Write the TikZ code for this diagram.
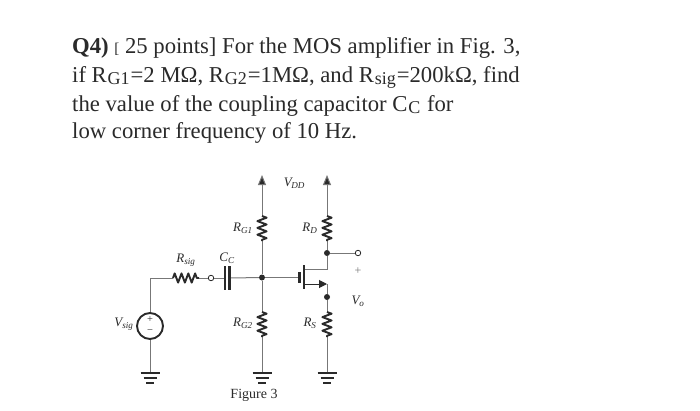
\documentclass[tikz,border=0pt]{standalone}
\usepackage{fontspec}
\setmainfont{Liberation Serif}
\usetikzlibrary{decorations.pathmorphing,arrows.meta}
\definecolor{ink}{HTML}{2A2A2A}
\definecolor{wire}{HTML}{777777}
\tikzset{
 x=1pt,y=-1pt,
 wireline/.style={draw=wire,line width=1pt},
 res/.style={draw=ink,line width=1.9pt,line join=round,decorate,decoration={zigzag,segment length=6.8pt,amplitude=4.6pt}},
 dot/.style={circle,fill=ink,inner sep=0pt,minimum size=6pt},
 term/.style={circle,draw=ink,fill=white,line width=0.8pt,inner sep=0pt,minimum size=5.5pt},
 para/.style={anchor=base west,inner sep=0pt,font=\fontsize{22.7}{23}\selectfont,text=ink},
 lab/.style={inner sep=0pt,font=\fontsize{13}{13}\selectfont\itshape,text=ink},
 plate/.style={draw=ink,line width=2.2pt},
 gbar/.style={draw=ink,line width=1.8pt},
 tip/.style={-{Triangle[length=10pt,width=8pt,fill=ink]}}
}
\newcommand{\gnd}[1]{%
 \draw[gbar] ([xshift=-9.5pt]#1) -- ([xshift=9.5pt]#1);
 \draw[gbar] ([xshift=-6.5pt,yshift=-5pt]#1) -- ([xshift=6.5pt,yshift=-5pt]#1);
 \draw[gbar] ([xshift=-4pt,yshift=-10pt]#1) -- ([xshift=4pt,yshift=-10pt]#1);
}
\newcommand{\sm}[1]{{\kern0.8pt\fontsize{18}{18}\selectfont\raisebox{-2pt}{#1}\kern1pt}}
\begin{document}
\begin{tikzpicture}
\useasboundingbox (0,0) rectangle (700,410);
\fill[white] (0,0) rectangle (700,410);
% text
\node[para] (l1) at (72,53.5) {\textbf{Q4)} {\fontsize{15}{15}\selectfont[} 25 points] For the MOS amplifier in Fig. 3,};
\node[para] (l2) at (72,82.5) {if R\sm{G1}=2 MΩ, R\sm{G2}=1MΩ, and R\sm{sig}=200kΩ, find};
\node[para] (l3) at (72,111.5) {the value of the coupling capacitor C\sm{C} for};
\node[para] (l4) at (72,138.5) {low corner frequency of 10 Hz.};
% key points
\coordinate (vddl) at (262,175);
\coordinate (vddr) at (327,175);
\coordinate (rg1t) at (262,216);
\coordinate (rg1b) at (262,241);
\coordinate (rdt) at (327,216);
\coordinate (rdb) at (327,241);
\node[dot] (nd) at (327,253) {};
\node[term] (out) at (358,253) {};
\node[dot] (ng) at (262,277.5) {};
\coordinate (rg2t) at (262,312);
\coordinate (rg2b) at (262,337);
\coordinate (rst) at (327,312);
\coordinate (rsb) at (327,337);
\node[dot] (ns) at (327,297) {};
\coordinate (g1) at (150,373);
\coordinate (g2) at (262,373);
\coordinate (g3) at (327,373);
\node[circle,draw=ink,line width=1.9pt,inner sep=0pt,minimum size=26pt] (vs) at (150,326) {};
\node[inner sep=0pt,text=ink,font=\fontsize{10.5}{10.5}\selectfont] (vp) at (150,319.5) {+};
\node[inner sep=0pt,text=ink,font=\fontsize{10.5}{10.5}\selectfont] (vm) at (150,332) {−};
\coordinate (cor) at (150,278);
\coordinate (rsl) at (173,278);
\coordinate (rsr) at (199,278);
\node[term] (in) at (211,278) {};
\coordinate (cl) at (225,278);
\coordinate (cr) at (229,278);
\coordinate (gt) at (298.5,277.5);
\coordinate (dc) at (304,269);
\coordinate (dk) at (327,269);
\coordinate (sc) at (304,284);
\coordinate (sk) at (327,284);
% wires
\draw[wireline,tip] (rg1t) -- (vddl);
\draw[wireline,tip] (rdt) -- (vddr);
\draw[wireline] (rg1b) -- (ng) -- (rg2t);
\draw[wireline] (rdb) -- (nd) -- (dk) -- (dc);
\draw[wireline] (nd) -- (out);
\draw[wireline] (ng) -- (gt);
\draw[wireline] (cr) -- (ng);
\draw[wireline] (in) -- (cl);
\draw[wireline] (rsr) -- (in);
\draw[wireline] (rsl) -- (cor) -- (vs);
\draw[wireline] (vs) -- (g1);
\draw[wireline] (rg2b) -- (g2);
\draw[wireline] (rsb) -- (g3);
\draw[wireline] (ns) -- (rst);
\draw[wireline] (sk) -- (ns);
\draw[draw=ink,line width=1pt,-{Triangle[length=8pt,width=8pt,fill=ink]}] (sc) -- (sk);
% resistors
\draw[res] (rg1t) -- (rg1b);
\draw[res] (rdt) -- (rdb);
\draw[res] (rg2t) -- (rg2b);
\draw[res] (rst) -- (rsb);
\draw[res] (rsl) -- (rsr);
% capacitor
\draw[plate] (225,266) -- (225,290);
\draw[plate] (229.5,266) -- (229.5,290);
% MOSFET
\draw[plate] (299.5,272) -- (299.5,283);
\draw[plate] (304,265) -- (304,289);
% grounds
\gnd{g1}
\gnd{g2}
\gnd{g3}
% labels
\node[lab] (lvdd) at (294.5,183) {V\textsubscript{\kern-0.5pt DD}};
\node[lab] (lrg1) at (243,228) {R\textsubscript{G1}};
\node[lab] (lrd) at (310,228) {R\textsubscript{D}};
\node[lab] (lrsig) at (186,260) {R\textsubscript{sig}};
\node[lab] (lcc) at (227,258) {C\textsubscript{C}};
\node[lab] (lrg2) at (243,323) {R\textsubscript{G2}};
\node[lab] (lrs) at (310,323) {R\textsubscript{S}};
\node[lab] (lvsig) at (124,324) {V\textsubscript{sig}};
\node[inner sep=0pt,text=wire,font=\fontsize{12}{12}\selectfont] (lp) at (358,271) {+};
\node[lab] (lvo) at (358,301) {V\textsubscript{o}};
\node[inner sep=0pt,text=ink,font=\fontsize{14}{14}\selectfont] (fig) at (254,395) {Figure 3};
\end{tikzpicture}
\end{document}
